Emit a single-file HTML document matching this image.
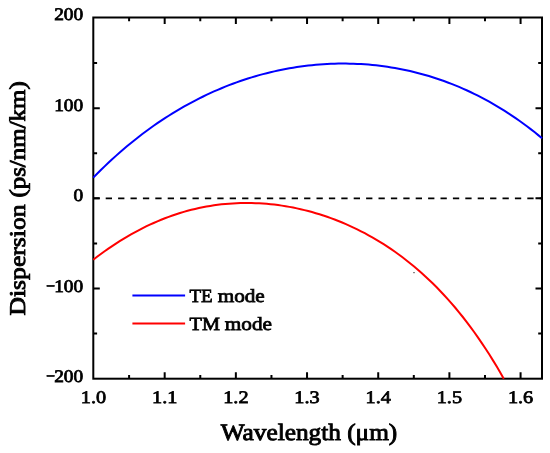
<!DOCTYPE html>
<html><head><meta charset="utf-8"><style>
html,body{margin:0;padding:0;background:#fff;}
svg{display:block;}
text{text-rendering:geometricPrecision;font-family:"Liberation Serif",serif;font-weight:normal;fill:#000;stroke:#000;stroke-width:0.75px;}
</style></head><body>
<svg width="550" height="453" viewBox="0 0 550 453">
<rect width="550" height="453" fill="#fff"/>
<path d="M93.3,198.30 H542.0" stroke="#000" stroke-width="1.7" stroke-dasharray="6.3 6.1" fill="none"/>
<rect x="93.3" y="17.5" width="448.7" height="361.2" fill="none" stroke="#000" stroke-width="2"/>
<path d="M164.68,378.7 V372.2 M164.68,17.5 V24.0 M235.86,378.7 V372.2 M235.86,17.5 V24.0 M307.04,378.7 V372.2 M307.04,17.5 V24.0 M378.22,378.7 V372.2 M378.22,17.5 V24.0 M449.40,378.7 V372.2 M449.40,17.5 V24.0 M520.58,378.7 V372.2 M520.58,17.5 V24.0 M129.09,378.7 V374.9 M129.09,17.5 V21.3 M200.27,378.7 V374.9 M200.27,17.5 V21.3 M271.45,378.7 V374.9 M271.45,17.5 V21.3 M342.63,378.7 V374.9 M342.63,17.5 V21.3 M413.81,378.7 V374.9 M413.81,17.5 V21.3 M484.99,378.7 V374.9 M484.99,17.5 V21.3 M93.3,288.45 H99.8 M542.0,288.45 H535.5 M93.3,198.30 H99.8 M542.0,198.30 H535.5 M93.3,108.15 H99.8 M542.0,108.15 H535.5 M93.3,333.52 H97.1 M542.0,333.52 H538.2 M93.3,243.38 H97.1 M542.0,243.38 H538.2 M93.3,153.23 H97.1 M542.0,153.23 H538.2 M93.3,63.08 H97.1 M542.0,63.08 H538.2" stroke="#000" stroke-width="2" fill="none"/>
<path d="M93.30,177.62 L97.07,173.79 L100.84,170.05 L104.61,166.38 L108.38,162.80 L112.15,159.30 L115.92,155.88 L119.69,152.54 L123.46,149.27 L127.24,146.09 L131.01,142.97 L134.78,139.93 L138.55,136.96 L142.32,134.07 L146.09,131.24 L149.86,128.49 L153.63,125.80 L157.40,123.19 L161.17,120.63 L164.94,118.15 L168.71,115.73 L172.48,113.37 L176.25,111.08 L180.02,108.85 L183.79,106.68 L187.56,104.57 L191.34,102.52 L195.11,100.53 L198.88,98.60 L202.65,96.73 L206.42,94.91 L210.19,93.16 L213.96,91.45 L217.73,89.80 L221.50,88.21 L225.27,86.67 L229.04,85.19 L232.81,83.75 L236.58,82.37 L240.35,81.04 L244.12,79.77 L247.89,78.54 L251.66,77.37 L255.44,76.24 L259.21,75.16 L262.98,74.14 L266.75,73.16 L270.52,72.23 L274.29,71.35 L278.06,70.52 L281.83,69.74 L285.60,69.00 L289.37,68.31 L293.14,67.67 L296.91,67.07 L300.68,66.52 L304.45,66.02 L308.22,65.57 L311.99,65.16 L315.76,64.80 L319.54,64.48 L323.31,64.21 L327.08,63.99 L330.85,63.82 L334.62,63.69 L338.39,63.60 L342.16,63.57 L345.93,63.58 L349.70,63.63 L353.47,63.74 L357.24,63.89 L361.01,64.09 L364.78,64.33 L368.55,64.62 L372.32,64.97 L376.09,65.35 L379.86,65.79 L383.64,66.28 L387.41,66.82 L391.18,67.40 L394.95,68.04 L398.72,68.72 L402.49,69.46 L406.26,70.25 L410.03,71.09 L413.80,71.98 L417.57,72.92 L421.34,73.92 L425.11,74.97 L428.88,76.08 L432.65,77.24 L436.42,78.45 L440.19,79.73 L443.96,81.06 L447.74,82.44 L451.51,83.89 L455.28,85.39 L459.05,86.95 L462.82,88.58 L466.59,90.26 L470.36,92.01 L474.13,93.82 L477.90,95.69 L481.67,97.63 L485.44,99.63 L489.21,101.70 L492.98,103.84 L496.75,106.05 L500.52,108.32 L504.29,110.67 L508.06,113.08 L511.84,115.57 L515.61,118.13 L519.38,120.77 L523.15,123.48 L526.92,126.27 L530.69,129.13 L534.46,132.08 L538.23,135.10 L542.00,138.21" stroke="#0000ff" stroke-width="2" fill="none" stroke-linejoin="round"/>
<path d="M93.30,259.72 L97.07,256.83 L100.84,254.02 L104.61,251.29 L108.38,248.64 L112.15,246.07 L115.92,243.58 L119.69,241.17 L123.46,238.83 L127.24,236.58 L131.01,234.40 L134.78,232.31 L138.55,230.28 L142.32,228.34 L146.09,226.47 L149.86,224.68 L153.63,222.97 L157.40,221.33 L161.17,219.76 L164.94,218.27 L168.71,216.85 L172.48,215.50 L176.25,214.23 L180.02,213.02 L183.79,211.89 L187.56,210.83 L191.34,209.84 L195.11,208.92 L198.88,208.06 L202.65,207.28 L206.42,206.56 L210.19,205.91 L213.96,205.32 L217.73,204.81 L221.50,204.35 L225.27,203.96 L229.04,203.64 L232.81,203.38 L236.58,203.18 L240.35,203.04 L244.12,202.97 L247.89,202.96 L251.66,203.01 L255.44,203.13 L259.21,203.30 L262.98,203.54 L266.75,203.83 L270.52,204.19 L274.29,204.60 L278.06,205.08 L281.83,205.62 L285.60,206.22 L289.37,206.87 L293.14,207.59 L296.91,208.37 L300.68,209.21 L304.45,210.11 L308.22,211.07 L311.99,212.09 L315.76,213.17 L319.54,214.32 L323.31,215.53 L327.08,216.81 L330.85,218.14 L334.62,219.55 L338.39,221.02 L342.16,222.55 L345.93,224.16 L349.70,225.83 L353.47,227.57 L357.24,229.38 L361.01,231.27 L364.78,233.23 L368.55,235.27 L372.32,237.38 L376.09,239.57 L379.86,241.84 L383.64,244.20 L387.41,246.64 L391.18,249.16 L394.95,251.77 L398.72,254.48 L402.49,257.27 L406.26,260.17 L410.03,263.16 L413.80,266.25 L417.57,269.44 L421.34,272.74 L425.11,276.15 L428.88,279.67 L432.65,283.31 L436.42,287.06 L440.19,290.94 L443.96,294.95 L447.74,299.08 L451.51,303.35 L455.28,307.76 L459.05,312.31 L462.82,317.00 L466.59,321.84 L470.36,326.84 L474.13,332.00 L477.90,337.32 L481.67,342.82 L485.44,348.48 L489.21,354.33 L492.98,360.36 L496.75,366.59 L500.52,373.01 L503.77,378.70" stroke="#ff0000" stroke-width="2" fill="none" stroke-linejoin="round"/>
<g font-size="17.7"><text x="80.85" y="403.1" textLength="25.3" lengthAdjust="spacingAndGlyphs">1.0</text><text x="152.03" y="403.1" textLength="25.3" lengthAdjust="spacingAndGlyphs">1.1</text><text x="223.21" y="403.1" textLength="25.3" lengthAdjust="spacingAndGlyphs">1.2</text><text x="294.39" y="403.1" textLength="25.3" lengthAdjust="spacingAndGlyphs">1.3</text><text x="365.57" y="403.1" textLength="25.3" lengthAdjust="spacingAndGlyphs">1.4</text><text x="436.75" y="403.1" textLength="25.3" lengthAdjust="spacingAndGlyphs">1.5</text><text x="507.93" y="403.1" textLength="25.3" lengthAdjust="spacingAndGlyphs">1.6</text><text x="54.20" y="20.00" textLength="29.00" lengthAdjust="spacingAndGlyphs">200</text><text x="54.20" y="110.85" textLength="29.00" lengthAdjust="spacingAndGlyphs">100</text><text x="73.53" y="201.00" textLength="9.67" lengthAdjust="spacingAndGlyphs">0</text><text x="54.20" y="291.55" textLength="29.00" lengthAdjust="spacingAndGlyphs">100</text><text x="47.0" y="290.15" textLength="7.2" lengthAdjust="spacingAndGlyphs">–</text><text x="54.20" y="381.70" textLength="29.00" lengthAdjust="spacingAndGlyphs">200</text><text x="47.0" y="380.30" textLength="7.2" lengthAdjust="spacingAndGlyphs">–</text></g>
<path d="M132.4,295.4 H185.1" stroke="#0000ff" stroke-width="2"/>
<path d="M132.4,323.6 H185.1" stroke="#ff0000" stroke-width="2"/>
<text x="189.4" y="302.1" font-size="18.7" textLength="23.2" lengthAdjust="spacingAndGlyphs">TE</text><text x="217.7" y="302.1" font-size="18.7" textLength="47.1" lengthAdjust="spacingAndGlyphs">mode</text>
<text x="189.6" y="330.2" font-size="18.7" textLength="30.4" lengthAdjust="spacingAndGlyphs">TM</text><text x="224.8" y="330.2" font-size="18.7" textLength="47.2" lengthAdjust="spacingAndGlyphs">mode</text>
<text x="220.7" y="439.5" font-size="23.5" style="stroke-width:0.9px" textLength="176.6" lengthAdjust="spacingAndGlyphs">Wavelength (μm)</text>
<g transform="translate(24.5,0) rotate(-90)"><text x="-315.6" y="0" font-size="22.5" style="stroke-width:0.9px" textLength="111.2" lengthAdjust="spacingAndGlyphs">Dispersion</text><text x="-197.6" y="0" font-size="22.5" style="stroke-width:0.9px" textLength="116.3" lengthAdjust="spacingAndGlyphs">(ps/nm/km)</text></g>
<rect x="413" y="272" width="2" height="1.2" fill="#888"/>
</svg>
</body></html>
